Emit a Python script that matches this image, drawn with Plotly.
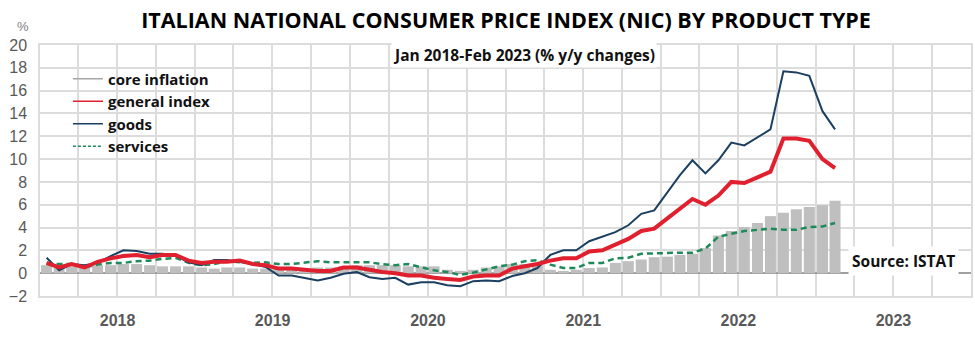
import pandas as pd
import plotly.graph_objects as go

# ---- data (monthly, Jan 2018 - Feb 2023, % y/y) ----
months = pd.date_range("2018-01-01", periods=62, freq="MS")

general_index = [
    0.9, 0.5, 0.8, 0.5, 1.0, 1.3, 1.5, 1.6, 1.4, 1.6, 1.6, 1.1,
    0.9, 1.0, 1.0, 1.1, 0.8, 0.7, 0.4, 0.4, 0.3, 0.2, 0.2, 0.5,
    0.5, 0.3, 0.1, 0.0, -0.2, -0.2, -0.4, -0.5, -0.6, -0.3, -0.2, -0.2,
    0.4, 0.6, 0.8, 1.1, 1.3, 1.3, 1.9, 2.0, 2.5, 3.0, 3.7, 3.9,
    4.8, 5.7, 6.5, 6.0, 6.8, 8.0, 7.9, 8.4, 8.9, 11.8, 11.8, 11.6,
    10.0, 9.2,
]
goods = [
    1.35, 0.25, 0.8, 0.7, 0.9, 1.5, 2.0, 1.95, 1.7, 1.7, 1.55, 0.95,
    0.7, 1.15, 1.15, 1.0, 0.8, 0.55, -0.2, -0.2, -0.4, -0.65, -0.4, -0.05,
    0.1, -0.35, -0.5, -0.4, -1.0, -0.8, -0.8, -1.05, -1.15, -0.7, -0.65, -0.7,
    -0.25, 0.0, 0.45, 1.6, 2.0, 2.0, 2.8, 3.2, 3.6, 4.2, 5.2, 5.5,
    7.1, 8.6, 9.9, 8.75, 9.9, 11.45, 11.2, 11.9, 12.6, 17.7, 17.6, 17.3,
    14.2, 12.6,
]
services = [
    0.8, 0.8, 0.8, 0.5, 0.75, 0.9, 0.9, 1.05, 1.1, 1.25, 1.35, 0.9,
    0.7, 0.8, 1.05, 0.95, 0.9, 0.95, 0.8, 0.8, 0.9, 1.05, 0.95, 0.95,
    0.95, 0.95, 0.8, 0.7, 0.8, 0.55, 0.25, 0.1, -0.15, 0.05, 0.3, 0.6,
    0.75, 1.05, 1.15, 0.75, 0.45, 0.45, 0.9, 0.9, 1.3, 1.35, 1.7, 1.75,
    1.8, 1.8, 1.8, 2.15, 3.2, 3.45, 3.7, 3.8, 3.9, 3.8, 3.8, 4.05,
    4.1, 4.4,
]
core_inflation = [
    0.7, 0.5, 0.6, 0.5, 0.7, 0.7, 0.8, 0.8, 0.7, 0.6, 0.6, 0.6,
    0.5, 0.4, 0.5, 0.5, 0.4, 0.4, 0.4, 0.4, 0.4, 0.5, 0.5, 0.6,
    0.7, 0.7, 0.7, 0.7, 0.6, 0.6, 0.6, 0.3, 0.2, 0.3, 0.5, 0.6,
    0.8, 0.8, 0.8, 0.3, 0.2, 0.3, 0.45, 0.5, 0.9, 1.05, 1.2, 1.4,
    1.45, 1.6, 1.7, 2.2, 3.3, 3.7, 4.05, 4.4, 5.0, 5.3, 5.6, 5.8,
    5.95, 6.35,
]

y_ticks = list(range(-2, 21, 2))

C_CORE = "#BFBFBF"
C_GEN = "#E0202E"
C_GOODS = "#1B3F60"
C_SERV = "#1E8A5A"
GRID = "#DCDCDC"
TXT = "#595959"

fig = go.Figure()

fig.add_trace(go.Bar(x=months, y=core_inflation, marker_color=C_CORE,
                     marker_line_width=0, xperiod="M1", xperiodalignment="middle",
                     showlegend=False, name="core inflation"))
fig.add_trace(go.Scatter(x=months, y=services, mode="lines",
                         line=dict(color=C_SERV, width=2.5, dash="6px,4px"),
                         xperiod="M1", xperiodalignment="middle",
                         showlegend=False, name="services"))
fig.add_trace(go.Scatter(x=months, y=goods, mode="lines",
                         line=dict(color=C_GOODS, width=2),
                         xperiod="M1", xperiodalignment="middle",
                         showlegend=False, name="goods"))
fig.add_trace(go.Scatter(x=months, y=general_index, mode="lines",
                         line=dict(color=C_GEN, width=4),
                         xperiod="M1", xperiodalignment="middle",
                         showlegend=False, name="general index"))

# legend entries (thin line samples, as in the original)
for nm, col, dash in [("core inflation", "#A6A6A6", "solid"),
                      ("general index", C_GEN, "solid"),
                      ("goods", C_GOODS, "solid"),
                      ("services", C_SERV, "3px,2px")]:
    fig.add_trace(go.Scatter(x=[None], y=[None], mode="lines", name=nm,
                             legendgroup=nm,
                             line=dict(color=col, width=1.5, dash=dash)))

fig.update_layout(
    width=975, height=340,
    margin=dict(l=40, r=2, t=45, b=44),
    paper_bgcolor="white", plot_bgcolor="white",
    bargap=0.12,
    font=dict(family="Liberation Sans, Arial, sans-serif", color=TXT),
    showlegend=True,
    legend=dict(x=0.03, y=0.93, xanchor="left", yanchor="top",
                bgcolor="rgba(0,0,0,0)", tracegroupgap=0,
                font=dict(family="Open Sans, sans-serif", size=15, color="#111111",
                          weight="bold")),
    title=dict(text="ITALIAN NATIONAL CONSUMER PRICE INDEX (NIC) BY PRODUCT TYPE",
               x=0.519, xanchor="center", y=0.94, yanchor="middle",
               font=dict(family="Open Sans, sans-serif", size=21.5, color="#000000",
                         weight="bold")),
    annotations=[
        dict(text="Jan 2018-Feb 2023 (% y/y changes)", xref="paper", yref="paper",
             x=0.52, y=0.96, xanchor="center", yanchor="middle", showarrow=False,
             bgcolor="white",
             font=dict(family="Open Sans, sans-serif", size=15.5, color="#111111",
                       weight="bold")),
        dict(text="Source: ISTAT", xref="paper", yref="paper",
             x=0.927, y=0.139, xanchor="center", yanchor="middle", showarrow=False,
             bgcolor="white", borderpad=3,
             font=dict(family="Open Sans, sans-serif", size=15.5, color="#111111",
                       weight="bold")),
        dict(text="%", xref="paper", yref="paper", x=-0.018, y=1.075,
             xanchor="center", yanchor="middle", showarrow=False,
             font=dict(size=13, color="#7F7F7F")),
    ],
)

fig.update_xaxes(
    type="date", range=["2018-01-01", "2024-01-01"],
    dtick="M12", tick0="2018-01-01", ticklabelmode="period", tickformat="%Y",
    showgrid=True, gridcolor=GRID, gridwidth=1.5,
    minor=dict(dtick="M3", showgrid=True, gridcolor=GRID, gridwidth=1.5),
    ticks="outside", ticklen=9, tickcolor="rgba(0,0,0,0)",
    showline=True, linecolor=GRID, linewidth=1.5, mirror=True,
    tickfont=dict(size=16, color=TXT, weight="bold"),
)
fig.update_yaxes(
    range=[-2, 20], tickvals=y_ticks,
    showgrid=True, gridcolor=GRID, gridwidth=1.5,
    zeroline=True, zerolinecolor="#A0A0A0", zerolinewidth=2,
    ticks="outside", ticklen=8, tickcolor="rgba(0,0,0,0)",
    showline=True, linecolor=GRID, linewidth=1.5, mirror=True,
    tickfont=dict(size=16, color=TXT),
)

fig.write_html("out.html")
